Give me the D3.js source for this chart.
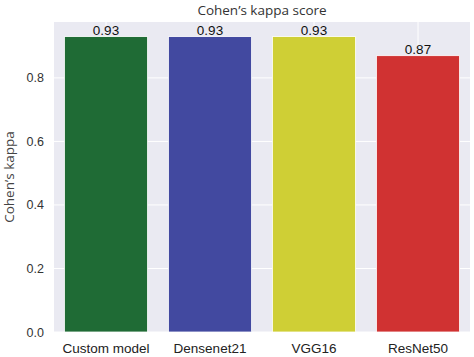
<!DOCTYPE html>
<html><head><meta charset="utf-8">
<script src="https://cdn.jsdelivr.net/npm/d3@7"></script>
<style>body{margin:0;background:#fff}svg{display:block}</style>
</head><body>
<script>
const categories = ["Custom model","Densenet21","VGG16","ResNet50"];
const values = [0.93, 0.93, 0.93, 0.87];
const labels = ["0.93","0.93","0.93","0.87"];
const colors = ["#1f6b35","#4249a0","#cfcf35","#d03232"];
const yTicks = [0.0,0.2,0.4,0.6,0.8];

const W=474,H=357, m={l:54,r:4,t:22,b:25};
const svg=d3.select("body").append("svg").attr("width",W).attr("height",H);
const x=d3.scaleBand().domain(categories).range([m.l,W-m.r]).paddingInner(0.2).paddingOuter(0.1);
const y=d3.scaleLinear().domain([0,0.976]).range([H-m.b,m.t]);
const font="Liberation Sans, Arial, sans-serif";

svg.append("rect").attr("x",m.l).attr("y",m.t).attr("width",W-m.r-m.l).attr("height",H-m.b-m.t).attr("fill","#eaeaf2");
const g=svg.append("g");
g.selectAll(".hg").data(yTicks).join("line").attr("x1",m.l).attr("x2",W-m.r)
 .attr("y1",d=>y(d)).attr("y2",d=>y(d)).attr("stroke","#fff").attr("stroke-width",1);
g.selectAll(".vg").data(categories).join("line").attr("y1",m.t).attr("y2",H-m.b)
 .attr("x1",d=>x(d)+x.bandwidth()/2).attr("x2",d=>x(d)+x.bandwidth()/2).attr("stroke","#fff").attr("stroke-width",1);

svg.selectAll(".bar").data(categories).join("rect")
 .attr("x",d=>x(d)).attr("width",x.bandwidth())
 .attr("y",(d,i)=>y(values[i])).attr("height",(d,i)=>y(0)-y(values[i]))
 .attr("fill",(d,i)=>colors[i]).attr("stroke","#fff").attr("stroke-width",0.8);

svg.selectAll(".vl").data(categories).join("text")
 .attr("x",d=>x(d)+x.bandwidth()/2).attr("y",(d,i)=>y(values[i])-2)
 .attr("text-anchor","middle").attr("font-family",font).attr("font-size",13.5).attr("fill","#111")
 .text((d,i)=>labels[i]);

const ya=d3.axisLeft(y).tickValues(yTicks).tickFormat(d3.format(".1f")).tickSize(0).tickPadding(10);
svg.append("g").attr("transform",`translate(${m.l},0)`).call(ya)
 .call(s=>s.select(".domain").remove())
 .selectAll("text").attr("font-family",font).attr("font-size",12.5).attr("fill","#333");
const xa=d3.axisBottom(x).tickSize(0).tickPadding(11);
svg.append("g").attr("transform",`translate(0,${H-m.b})`).call(xa)
 .call(s=>s.select(".domain").remove())
 .selectAll("text").attr("font-family",font).attr("font-size",13.5).attr("fill","#222");

svg.append("text").attr("x",(m.l+W-m.r)/2).attr("y",15).attr("text-anchor","middle")
 .attr("font-family","Open Sans, DejaVu Sans, sans-serif").attr("font-size",13.5).attr("fill","#333").text("Cohen’s kappa score");
svg.append("text").attr("transform",`translate(14,${(m.t+H-m.b)/2}) rotate(-90)`).attr("text-anchor","middle")
 .attr("font-family","Open Sans, DejaVu Sans, sans-serif").attr("font-size",13.5).attr("fill","#444").text("Cohen’s kappa");
</script>
</body></html>
